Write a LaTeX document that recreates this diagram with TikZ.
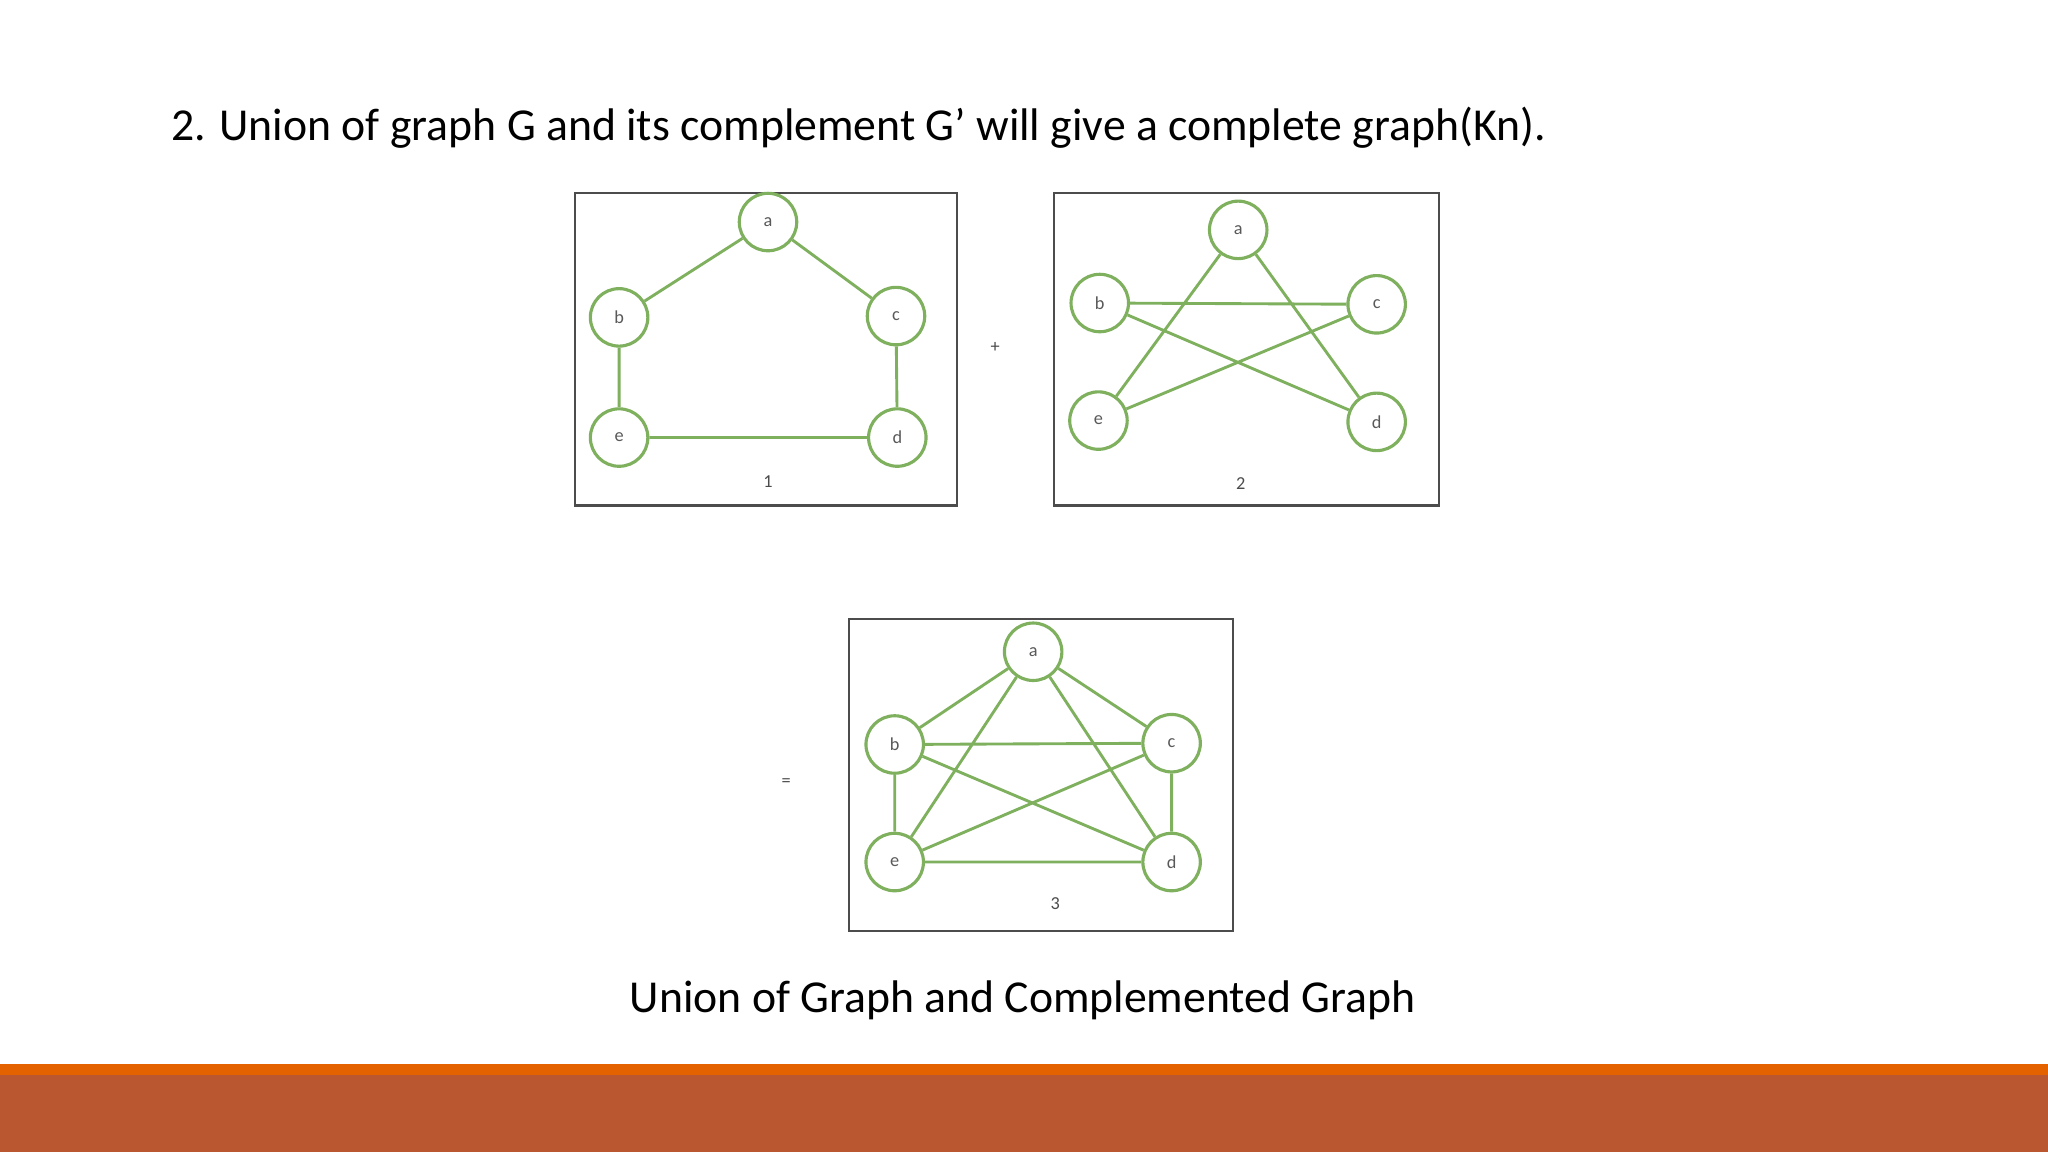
\documentclass[tikz,border=0pt]{standalone}
\usepackage{fontspec}
\setmainfont{Carlito}
\begin{document}
\begin{tikzpicture}[x=0.5pt,y=-0.5pt,
  vtx/.style={circle,draw=grn,line width=1.2pt,minimum size=22pt,inner sep=0pt,font=\fontsize{7}{8}\selectfont,text=black!65},
  edg/.style={draw=grn,line width=1.1pt},
  frame/.style={draw=black!70,line width=0.8pt},
  small/.style={font=\fontsize{7}{8}\selectfont,text=black!70}]
\definecolor{grn}{HTML}{7FB05E}
\useasboundingbox (0,0) rectangle (1568,882);
\fill[white] (0,0) rectangle (1568,882);
\fill[orange!85!red!90!black] (0,815) rectangle (1568,823);
\fill[orange!85!red!90!black] (0,815) rectangle (1568,823);
\fill[fill={rgb,255:red,186;green,86;blue,48}] (0,823) rectangle (1568,882);
\node[anchor=west,font=\fontsize{17.5}{20}\selectfont] (title) at (124,98) {2. Union of graph G and its complement G’ will give a complete graph(Kn).};
\node[font=\fontsize{17.5}{20}\selectfont] (cap) at (783,766) {Union of Graph and Complemented Graph};
% box 1
\draw[frame] (440,148) rectangle (733,387);
\node[vtx] (a1) at (588,170) {a};
\node[vtx] (b1) at (474,243) {b};
\node[vtx] (c1) at (686,242) {c};
\node[vtx] (e1) at (474,335) {e};
\node[vtx] (d1) at (687,335) {d};
\node[small] (l1) at (588,369) {1};
\draw[edg] (a1)--(b1) (a1)--(c1) (b1)--(e1) (c1)--(d1) (e1)--(d1);
% box 2
\draw[frame] (807,148) rectangle (1102,387);
\node[vtx] (a2) at (948,176) {a};
\node[vtx] (b2) at (842,232) {b};
\node[vtx] (c2) at (1054,233) {c};
\node[vtx] (e2) at (841,322) {e};
\node[vtx] (d2) at (1054,323) {d};
\node[small] (l2) at (950,370) {2};
\draw[edg] (a2)--(e2) (a2)--(d2) (b2)--(c2) (b2)--(d2) (e2)--(c2);
\node[small] (plus) at (762,266) {+};
% box 3
\draw[frame] (650,474) rectangle (944,713);
\node[vtx] (a3) at (791,499) {a};
\node[vtx] (b3) at (685,570) {b};
\node[vtx] (c3) at (897,569) {c};
\node[vtx] (e3) at (685,660) {e};
\node[vtx] (d3) at (897,660) {d};
\node[small] (l3) at (808,692) {3};
\draw[edg] (a3)--(b3) (a3)--(c3) (a3)--(d3) (a3)--(e3) (b3)--(c3) (b3)--(d3) (b3)--(e3) (c3)--(d3) (c3)--(e3) (d3)--(e3);
\node[small] (eq) at (602,599) {=};
\end{tikzpicture}
\end{document}
